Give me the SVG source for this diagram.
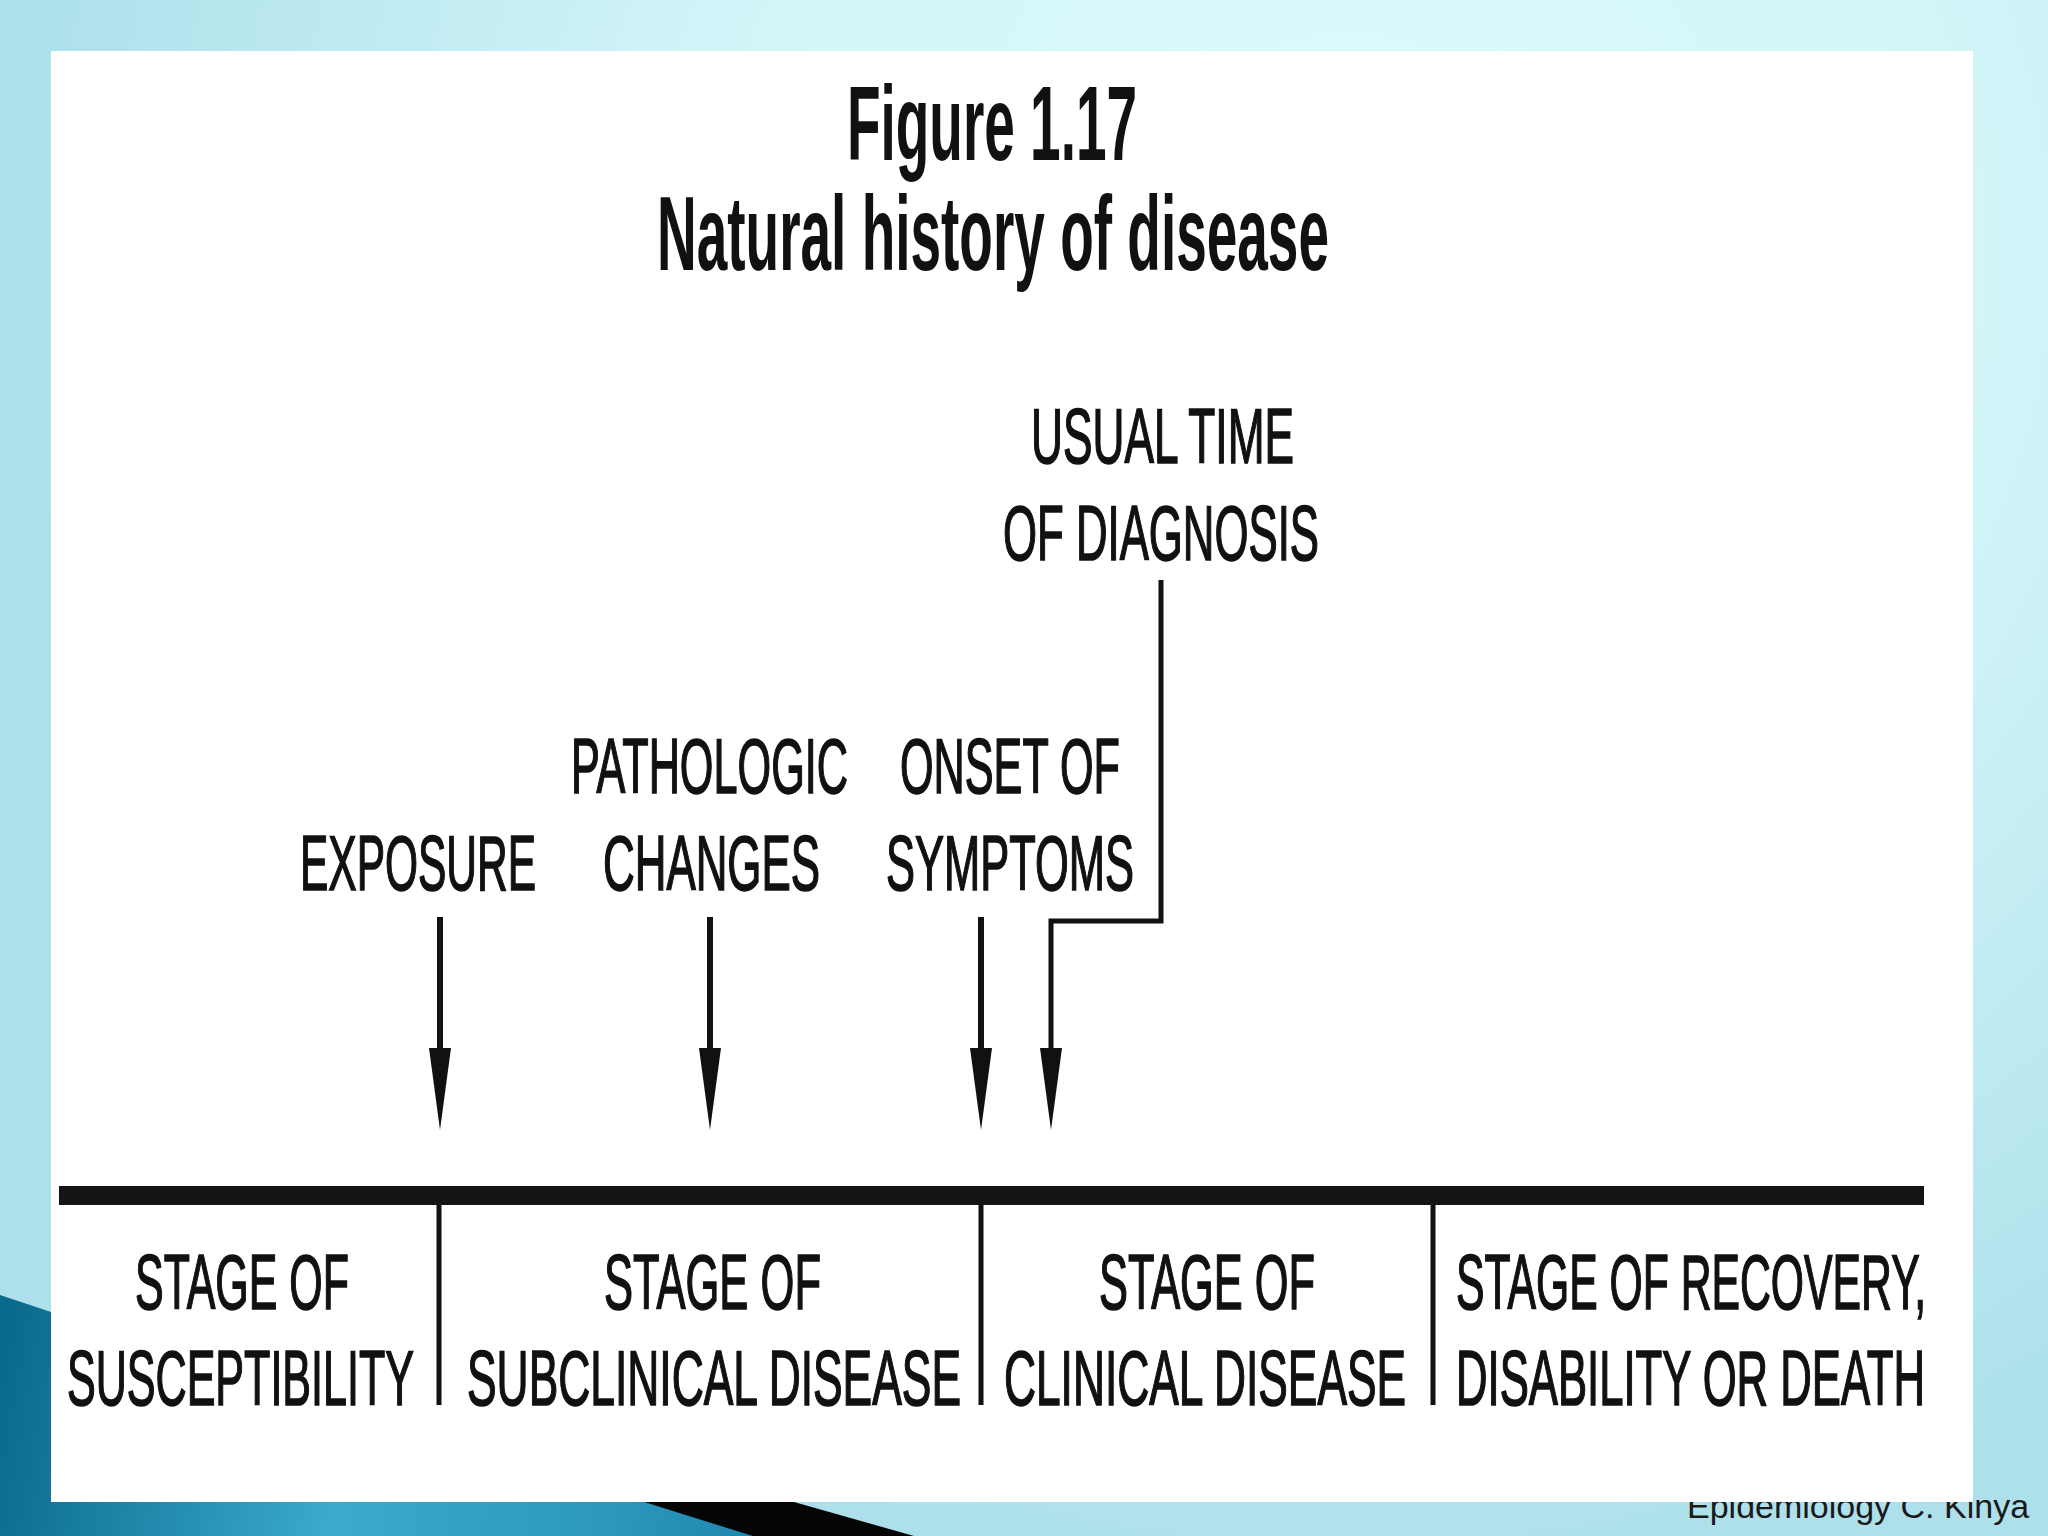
<svg xmlns="http://www.w3.org/2000/svg" width="2048" height="1536" viewBox="0 0 2048 1536">
  <defs>
    <radialGradient id="glow" gradientUnits="userSpaceOnUse" cx="1350" cy="250" r="1350">
      <stop offset="0" stop-color="#dbfafc" stop-opacity="1"/>
      <stop offset="0.45" stop-color="#dbfafc" stop-opacity="0.85"/>
      <stop offset="1" stop-color="#dbfafc" stop-opacity="0"/>
    </radialGradient>
    <linearGradient id="teal" gradientUnits="userSpaceOnUse" x1="0" y1="1400" x2="760" y2="1536">
      <stop offset="0" stop-color="#0b6b8c"/>
      <stop offset="0.45" stop-color="#3aaacd"/>
      <stop offset="0.8" stop-color="#2c98bd"/>
      <stop offset="1" stop-color="#1f86ad"/>
    </linearGradient>
    <marker id="ah" markerUnits="userSpaceOnUse" markerWidth="84" markerHeight="26" viewBox="0 -13 84 26" refX="0" refY="0" orient="auto" overflow="visible">
      <path d="M0,-11 L82,0 L0,11 Z" fill="#111"/>
    </marker>
    <style>
      .lbl { font-family: "Liberation Sans", Arial, sans-serif; font-size: 77px; fill: #111; stroke: #111; stroke-width: 1.6px; }
      .ttl { font-family: "Liberation Sans", Arial, sans-serif; font-size: 105px; font-weight: bold; fill: #111; }
      .foot { font-family: "Liberation Sans", Arial, sans-serif; font-size: 34px; fill: #1a1a1a; }
      .arrow { fill: none; stroke: #111; stroke-width: 6; }
      .conn { fill: none; stroke: #111; stroke-width: 5; }
      .div { stroke: #111; stroke-width: 5; }
    </style>
  </defs>

  <!-- background -->
  <g id="background">
    <rect x="0" y="0" width="2048" height="1536" fill="#ade0eb"/>
    <rect x="0" y="0" width="2048" height="1536" fill="url(#glow)"/>
    <polygon points="0,1295 51,1312 644,1502 760,1536 0,1536" fill="url(#teal)"/>
    <polygon points="644,1502 794,1502 914,1536 753,1536" fill="#050505"/>
    <text class="foot" x="1687" y="1518">Epidemiology C. Kinya</text>
  </g>

  <!-- white panel -->
  <rect id="panel" x="51" y="51" width="1922" height="1451" fill="#ffffff"/>

  <g id="title">
    <text class="ttl" x="847" y="160" textLength="290" lengthAdjust="spacingAndGlyphs">Figure 1.17</text>
    <text class="ttl" x="657" y="270" textLength="672" lengthAdjust="spacingAndGlyphs">Natural history of disease</text>
  </g>

  <g id="node-diagnosis">
    <text class="lbl" x="1031" y="463" textLength="263" lengthAdjust="spacingAndGlyphs">USUAL TIME</text>
    <text class="lbl" x="1003" y="560" textLength="316" lengthAdjust="spacingAndGlyphs">OF DIAGNOSIS</text>
  </g>

  <g id="node-pathologic">
    <text class="lbl" x="571" y="793" textLength="277" lengthAdjust="spacingAndGlyphs">PATHOLOGIC</text>
    <text class="lbl" x="603" y="890" textLength="217" lengthAdjust="spacingAndGlyphs">CHANGES</text>
  </g>

  <g id="node-onset">
    <text class="lbl" x="900" y="793" textLength="220" lengthAdjust="spacingAndGlyphs">ONSET OF</text>
    <text class="lbl" x="886" y="890" textLength="248" lengthAdjust="spacingAndGlyphs">SYMPTOMS</text>
  </g>

  <g id="node-exposure">
    <text class="lbl" x="300" y="890" textLength="236" lengthAdjust="spacingAndGlyphs">EXPOSURE</text>
  </g>

  <g id="connectors">
    <line class="arrow" x1="440" y1="917" x2="440" y2="1048" marker-end="url(#ah)"/>
    <line class="arrow" x1="710" y1="917" x2="710" y2="1048" marker-end="url(#ah)"/>
    <line class="arrow" x1="981" y1="917" x2="981" y2="1048" marker-end="url(#ah)"/>
    <path class="conn" d="M1161,580 V921 H1051 V1048" marker-end="url(#ah)"/>
  </g>

  <g id="timeline">
    <rect x="59" y="1186" width="1865" height="19" fill="#141414"/>
    <line class="div" x1="439" y1="1205" x2="439" y2="1405"/>
    <line class="div" x1="981" y1="1205" x2="981" y2="1405"/>
    <line class="div" x1="1433" y1="1205" x2="1433" y2="1405"/>
  </g>

  <g id="stage-susceptibility">
    <text class="lbl" x="135" y="1309" textLength="214" lengthAdjust="spacingAndGlyphs">STAGE OF</text>
    <text class="lbl" x="67" y="1405" textLength="347" lengthAdjust="spacingAndGlyphs">SUSCEPTIBILITY</text>
  </g>

  <g id="stage-subclinical">
    <text class="lbl" x="604" y="1309" textLength="217" lengthAdjust="spacingAndGlyphs">STAGE OF</text>
    <text class="lbl" x="467" y="1405" textLength="494" lengthAdjust="spacingAndGlyphs">SUBCLINICAL DISEASE</text>
  </g>

  <g id="stage-clinical">
    <text class="lbl" x="1099" y="1309" textLength="216" lengthAdjust="spacingAndGlyphs">STAGE OF</text>
    <text class="lbl" x="1004" y="1405" textLength="402" lengthAdjust="spacingAndGlyphs">CLINICAL DISEASE</text>
  </g>

  <g id="stage-recovery">
    <text class="lbl" x="1456" y="1309" textLength="470" lengthAdjust="spacingAndGlyphs">STAGE OF RECOVERY,</text>
    <text class="lbl" x="1456" y="1405" textLength="469" lengthAdjust="spacingAndGlyphs">DISABILITY OR DEATH</text>
  </g>
</svg>
